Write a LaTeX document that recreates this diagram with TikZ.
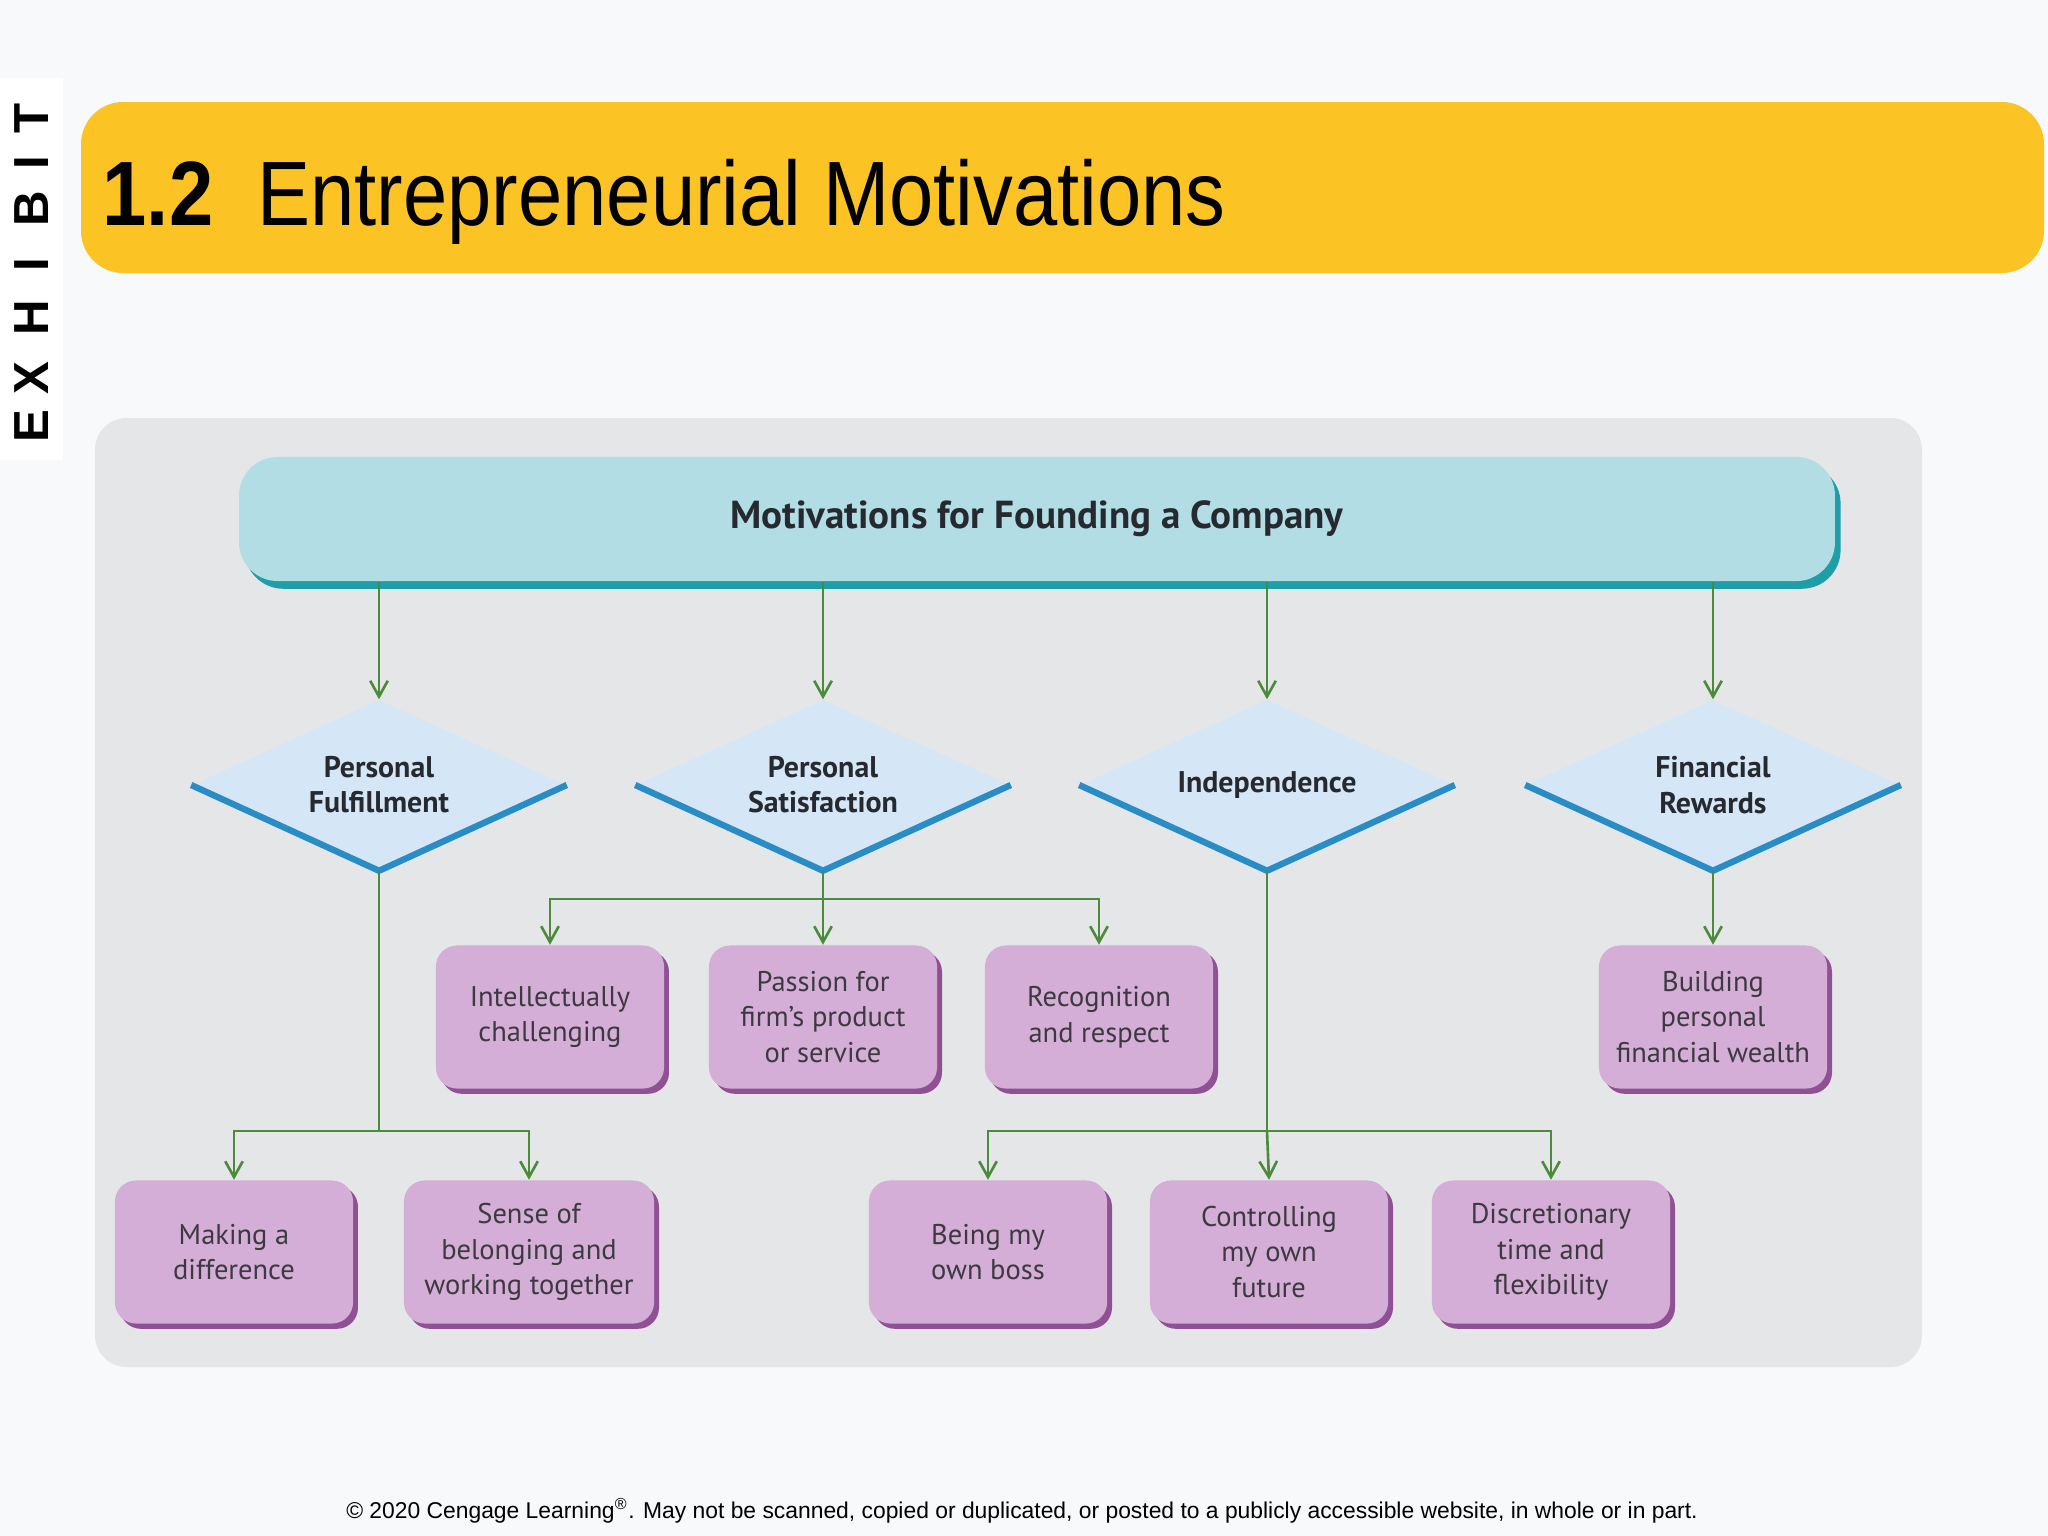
\documentclass[tikz,border=0pt]{standalone}
\usepackage{fontspec}
\setmainfont{Liberation Sans}
\newfontfamily\ptsans{PT Sans}
\usetikzlibrary{arrows.meta,shapes.geometric,shadows}

\definecolor{pagebg}{HTML}{F7F9FA}
\definecolor{banner}{HTML}{FBC324}
\definecolor{panelgrey}{HTML}{E5E6E8}
\definecolor{topfill}{HTML}{B2DDE4}
\definecolor{topedge}{HTML}{1F9EA8}
\definecolor{diafill}{HTML}{D5E6F6}
\definecolor{diaedge}{HTML}{2A8CC4}
\definecolor{boxfill}{HTML}{D4AED7}
\definecolor{boxedge}{HTML}{8F5193}
\definecolor{linkgreen}{HTML}{4C8A3C}
\definecolor{darktext}{HTML}{262A30}
\definecolor{boxtext}{HTML}{3C3A40}

\tikzset{
  motive/.style={rectangle, rounded corners=6pt, fill=boxfill, minimum width=2.38cm,
    minimum height=1.43cm, align=center, text=boxtext, inner sep=1pt,
    font=\ptsans\fontsize{8.1}{10.1}\selectfont,
    drop shadow={shadow xshift=1.4pt, shadow yshift=-1.5pt, fill=boxedge, opacity=1}},
  reason/.style={diamond, fill=diafill, minimum width=3.74cm, minimum height=1.7cm,
    shape aspect=2.2, inner sep=0pt, align=center, text=darktext,
    font=\ptsans\bfseries\fontsize{8.5}{10}\selectfont},
  rim/.style={draw=diaedge, line width=1.8pt, line join=round},
  link/.style={draw=linkgreen, line width=0.75pt},
  arr/.style={link, -{Straight Barb[length=4.5pt,width=5pt]}},
  exletter/.style={rotate=90, font=\bfseries\fontsize{14}{14}\selectfont, text=black}
}

\begin{document}
\begin{tikzpicture}[x=0.01cm, y=-0.01cm]
  \useasboundingbox (0,0) rectangle (2048,1536);
  \fill[pagebg] (0,0) rectangle (2048,1536);
  \fill[white] (0,78) rectangle (63,460);
  \fill[banner, rounded corners=12pt] (81,102) rectangle (2044,273);
  \fill[panelgrey, rounded corners=9pt] (95,418) rectangle (1922,1367);

  \foreach \ch/\yy [count=\i] in {E/426,X/378,H/318,I/265,B/209,I/163,T/118}
    \node[exletter] (ex\i) at (32,\yy) {\ch};

  \node[anchor=base west, inner sep=0pt] (title) at (102,225)
    {\scalebox{0.87}[1]{\fontsize{26}{30}\selectfont\textbf{1.2}\ \ Entrepreneurial Motivations}};

  \node[rectangle, rounded corners=11pt, fill=topfill, minimum width=15.95cm, minimum height=1.24cm,
    text=darktext, font=\ptsans\bfseries\fontsize{11.1}{13}\selectfont,
    drop shadow={shadow xshift=1.6pt, shadow yshift=-2.2pt, fill=topedge, opacity=1}]
    (top) at (1037,519) {Motivations for Founding a Company};

  \begin{scope}[every node/.style={reason}]
    \node (pf) at (379,785)  {Personal\\Fulfillment};
    \node (ps) at (823,785)  {Personal\\Satisfaction};
    \node (in) at (1267,785) {Independence};
    \node (fr) at (1713,785) {Financial\\Rewards};
  \end{scope}

  \foreach \d in {pf,ps,in,fr}
    \draw[rim] (\d.west) -- (\d.south) -- (\d.east);

  \begin{scope}[every node/.style={motive}]
    \node[minimum width=2.28cm] (ic) at (550,1017)  {Intellectually\\challenging};
    \node[minimum width=2.28cm] (pp) at (823,1017)  {Passion for\\firm’s product\\or service};
    \node[minimum width=2.28cm] (rr) at (1099,1017) {Recognition\\and respect};
    \node[minimum width=2.28cm] (bw) at (1713,1017) {Building\\personal\\financial wealth};
    \node (md) at (234,1252)  {Making a\\difference};
    \node[minimum width=2.5cm] (sb) at (529,1252) {Sense of\\belonging and\\working together};
    \node (bb) at (988,1252)  {Being my\\own boss};
    \node (cf) at (1269,1252) {Controlling\\my own\\future};
    \node (dt) at (1551,1252) {Discretionary\\time and\\flexibility};
  \end{scope}

  \coordinate (pfj) at (379,1131);
  \coordinate (psj) at (823,899);
  \coordinate (inj) at (1267,1131);

  \foreach \d in {pf,ps,in,fr}
    \draw[arr] (top.south -| \d.north) -- (\d.north);

  \draw[link] (pf.south) -- (pfj);
  \draw[arr] (pfj) -| (md.north);
  \draw[arr] (pfj) -| (sb.north);

  \draw[link] (ps.south) -- (psj);
  \draw[arr] (psj) -| (ic.north);
  \draw[arr] (psj) -- (pp.north);
  \draw[arr] (psj) -| (rr.north);

  \draw[link] (in.south) -- (inj);
  \draw[arr] (inj) -| (bb.north);
  \draw[arr] (inj) -- (cf.north);
  \draw[arr] (inj) -| (dt.north);

  \draw[arr] (fr.south) -- (bw.north);

  \node[anchor=base, font=\fontsize{6.5}{8}\selectfont] (credit) at (1022,1518)
    {© 2020 Cengage Learning\textsuperscript{®}. May not be scanned, copied or duplicated, or posted to a publicly accessible website, in whole or in part.};
\end{tikzpicture}
\end{document}
